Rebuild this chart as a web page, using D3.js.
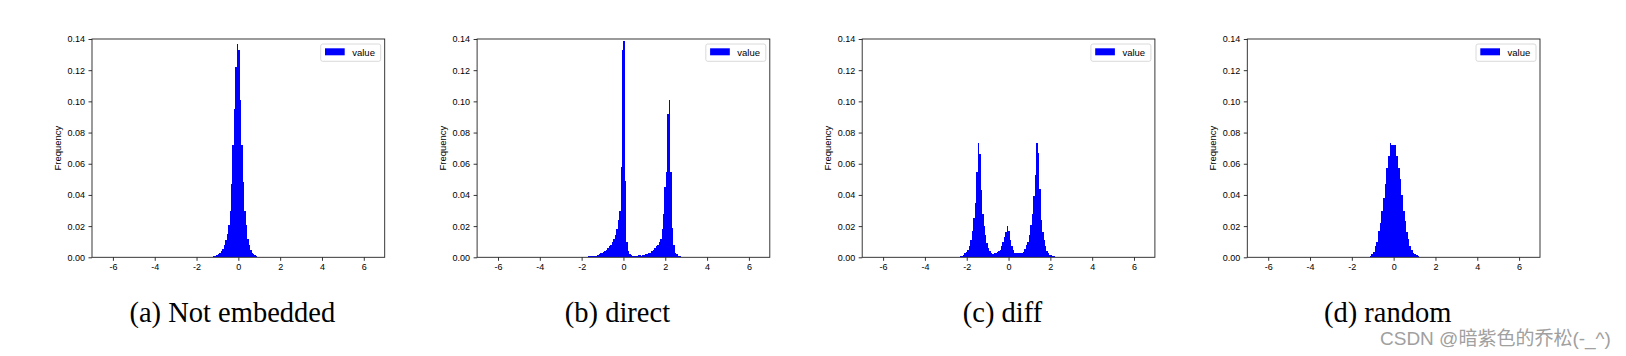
<!DOCTYPE html>
<html><head><meta charset="utf-8">
<script src="https://cdn.jsdelivr.net/npm/d3@7/dist/d3.min.js"></script>
<style>body{margin:0;background:#fff}</style>
</head><body><svg id="c" width="1626" height="356"></svg>
<script>
const captions = ["(a) Not embedded", "(b) direct", "(c) diff", "(d) random"];
const binStarts = [-1.19, -1.68, -2.32, -1.22];
const binWidths = [0.07, 0.07, 0.07, 0.079];
const notEmbedded = [0.0008,0.001,0.0015,0.002,0.003,0.004,0.0055,0.008,0.011,0.015,0.021,0.030,0.047,0.072,0.095,0.122,0.137,0.133,0.101,0.072,0.048,0.030,0.021,0.012,0.008,0.005,0.003,0.002,0.0015,0.001,0.0005];
const direct = [0.0008,0.0008,0.0008,0.0008,0.001,0.001,0.0015,0.002,0.0025,0.003,0.0035,0.004,0.005,0.006,0.007,0.008,0.010,0.012,0.014,0.018,0.024,0.030,0.058,0.133,0.139,0.049,0.010,0.004,0.002,0.0015,0.001,0.001,0.0008,0.0008,0.0012,0.0012,0.001,0.0012,0.0015,0.002,0.002,0.0025,0.003,0.004,0.005,0.006,0.007,0.008,0.010,0.012,0.018,0.028,0.045,0.055,0.092,0.101,0.055,0.019,0.008,0.003,0.002,0.001,0.0008];
const diff = [0.0008,0.001,0.0015,0.0025,0.0035,0.005,0.007,0.011,0.017,0.025,0.035,0.055,
  0.0735,0.066,0.043,0.028,0.020,0.014,0.0094,0.006,0.004,0.0028,0.0024,0.0025,0.003,0.0034,0.004,0.005,0.0073,0.010,0.013,0.016,0.020,
  0.017,0.011,0.007,0.0047,0.003,0.0025,0.0025,0.0025,0.0025,0.003,0.0036,0.0056,0.0077,0.010,0.014,0.021,0.028,0.039,0.053,0.0735,
  0.067,0.044,0.024,0.016,0.011,0.007,0.0043,0.0025,0.0017,0.0012,0.001,0.0008];
const random = [0.0005,0.001,0.002,0.0036,0.007,0.010,0.017,0.022,0.030,0.038,0.047,0.057,0.065,0.073,0.072,0.072,0.072,0.065,0.057,0.050,0.040,0.030,0.023,0.016,0.0115,0.007,0.0047,0.003,0.002,0.0015,0.001];
const xTicks = [-6, -4, -2, 0, 2, 4, 6];
const yTicks = [0, 0.02, 0.04, 0.06, 0.08, 0.10, 0.12, 0.14];
const xDomain = [-7, 7];
const yDomain = [0, 0.14];
const legendLabel = "value";
const yLabel = "Frequency";
const watermark = "CSDN @暗紫色的乔松(-_^)";

const series = [notEmbedded, direct, diff, random];
const svg = d3.select("#c");
svg.append("rect").attr("width", 1626).attr("height", 356).attr("fill", "#fff");

const left0 = 92, step = 385.1, W = 292.7, plotTop = 39, H = 218.3;
const sans = "'Liberation Sans', Arial, sans-serif";

series.forEach((vals, p) => {
  const L = left0 + p * step;
  const g = svg.append("g").attr("transform", `translate(${L},${plotTop})`);
  const x = d3.scaleLinear().domain(xDomain).range([0, W]);
  const y = d3.scaleLinear().domain(yDomain).range([H, 0]);

  g.append("g").selectAll("rect").data(vals).join("rect")
    .attr("x", (d, i) => x(binStarts[p] + i * binWidths[p]))
    .attr("width", (d, i) => x(binStarts[p] + (i + 1) * binWidths[p]) - x(binStarts[p] + i * binWidths[p]) + 0.05)
    .attr("y", d => y(d))
    .attr("height", d => H - y(d))
    .attr("fill", "#0000ff")
    .attr("shape-rendering", "crispEdges");

  const xa = g.append("g").attr("transform", `translate(0,${H})`)
    .call(d3.axisBottom(x).tickValues(xTicks).tickSize(3.5).tickPadding(2.5).tickFormat(d => String(d)));
  const ya = g.append("g")
    .call(d3.axisLeft(y).tickValues(yTicks).tickSize(3.5).tickPadding(3.5).tickFormat(d3.format(".2f")));
  [xa, ya].forEach(a => {
    a.select(".domain").remove();
    a.selectAll("line").attr("stroke", "#000").attr("stroke-width", 0.8);
    a.selectAll("text").attr("font-family", sans).attr("font-size", 9).attr("fill", "#000");
  });

  g.append("rect").attr("x", 0).attr("y", 0).attr("width", W).attr("height", H)
    .attr("fill", "none").attr("stroke", "#222").attr("stroke-width", 0.9);

  g.append("text").attr("transform", `translate(${-35},${H / 2}) rotate(-90)`)
    .attr("text-anchor", "middle").attr("dominant-baseline", "central")
    .attr("font-family", sans).attr("font-size", 9.5).text(yLabel);

  const lg = g.append("g").attr("transform", `translate(${W - 64},${5})`);
  lg.append("rect").attr("x", 0).attr("y", 0).attr("width", 60).attr("height", 17.3).attr("rx", 2)
    .attr("fill", "#fff").attr("stroke", "#d0d0d0").attr("stroke-width", 0.8);
  lg.append("rect").attr("x", 4.3).attr("y", 4.3).attr("width", 19.7).attr("height", 7).attr("fill", "#0000ff");
  lg.append("text").attr("x", 31.5).attr("y", 8.3).attr("dominant-baseline", "central")
    .attr("font-family", sans).attr("font-size", 9.5).text(legendLabel);

  svg.append("text").attr("x", L + W / 2 - 6).attr("y", 322).attr("text-anchor", "middle")
    .attr("font-family", "'Liberation Serif', 'Times New Roman', serif").attr("font-size", 28.5)
    .attr("fill", "#000").text(captions[p]);
});

svg.append("text").attr("x", 1380).attr("y", 345)
  .attr("font-family", "'Liberation Sans', 'Noto Sans CJK SC', sans-serif")
  .attr("font-size", 19).attr("fill", "#a0a0a0").text(watermark);
</script>
</body></html>
